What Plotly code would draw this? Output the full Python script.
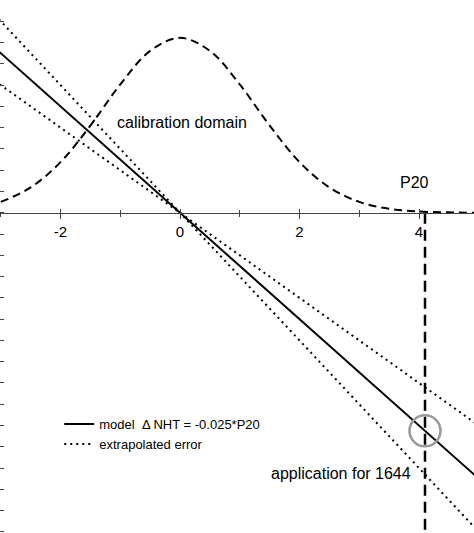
import plotly.graph_objects as go

# DATA

# calibration domain: distribution of P20 (dashed bell curve)
p20_grid = [-3.0, -2.5, -2.0, -1.5, -1.0, -0.5, 0.0, 0.5, 1.0, 1.5, 2.0, 2.5, 3.0, 3.5, 4.0, 4.5, 5.0]
density = [0.0051, 0.0119, 0.0238, 0.0410, 0.0603, 0.0761, 0.0822, 0.0761, 0.0603,
           0.0410, 0.0238, 0.0119, 0.0051, 0.0019, 0.0006, 0.0002, 0.0]

# model line and extrapolated error cone (the two dotted lines cross at 0)
line_x = [-3.1, 5.0]
model_y = [0.0775, -0.125]
err_steep_y = [0.093, -0.150]
err_flat_y = [0.062, -0.100]

# application point
app_p20 = 4.1
app_nht = -0.1025

x_ticks = [-2, 0, 2, 4]
x_labels = ["-2", "0", "2", "4"]

x_range = [-3.013, 4.92]
y_range = [-0.1505, 0.100]

FONT = "Liberation Sans, Arial, Helvetica, sans-serif"

fig = go.Figure()

fig.add_trace(go.Scatter(
    x=p20_grid, y=density, mode="lines", showlegend=False,
    line=dict(color="black", width=2, dash="8px,5px", shape="spline"),
))

fig.add_trace(go.Scatter(
    x=line_x, y=model_y, mode="lines", name="model  \u0394 NHT = -0.025*P20",
    line=dict(color="black", width=2),
))
fig.add_trace(go.Scatter(
    x=line_x, y=err_steep_y, mode="lines", name="extrapolated error",
    legendgroup="err", line=dict(color="black", width=2, dash="2px,4px"),
))
fig.add_trace(go.Scatter(
    x=line_x, y=err_flat_y, mode="lines", name="extrapolated error",
    legendgroup="err", showlegend=False,
    line=dict(color="black", width=2, dash="2px,4px"),
))

# vertical application line from the axis down
fig.add_trace(go.Scatter(
    x=[app_p20, app_p20], y=[0, y_range[0]], mode="lines", showlegend=False,
    line=dict(color="black", width=2.5, dash="11px,6px"),
))

# circle round the application point
fig.add_trace(go.Scatter(
    x=[app_p20], y=[app_nht], mode="markers", showlegend=False,
    marker=dict(symbol="circle-open", size=31, color="#999999", line=dict(width=2.5, color="#999999")),
))

# dummy trace so the overlay axis is drawn
fig.add_trace(go.Scatter(x=[0], y=[0], xaxis="x2", mode="markers", showlegend=False,
                         marker=dict(opacity=0), hoverinfo="skip"))

axis_pos = (0 - y_range[0]) / (y_range[1] - y_range[0])

fig.add_annotation(x=0.03, y=0.0426, text="calibration domain", showarrow=False,
                   font=dict(size=16, color="black", family=FONT))
fig.add_annotation(x=3.93, y=0.014, text="P20", showarrow=False,
                   font=dict(size=16, color="black", family=FONT))
fig.add_annotation(x=3.90, y=-0.1223, text="application for 1644", showarrow=False,
                   xanchor="right", font=dict(size=16, color="black", family=FONT))

fig.update_layout(
    width=474, height=533,
    margin=dict(l=0, r=0, t=0, b=0),
    paper_bgcolor="white", plot_bgcolor="white",
    font=dict(family=FONT, color="black"),
    xaxis=dict(
        range=x_range, anchor="free", position=axis_pos,
        showline=True, linecolor="#444444", linewidth=1,
        showgrid=False, zeroline=False,
        tickvals=x_ticks, ticktext=x_labels,
        ticks="outside", ticklen=5, tickcolor="#444444", tickwidth=1,
        tickfont=dict(size=15, color="black"),
        minor=dict(dtick=1, tick0=0, ticks="outside", ticklen=3, tickcolor="#444444", showgrid=False),
    ),
    xaxis2=dict(
        range=x_range, overlaying="x", anchor="free", position=axis_pos,
        showline=False, showgrid=False, zeroline=False,
        tickvals=x_ticks, showticklabels=False,
        ticks="inside", ticklen=4, tickcolor="#444444", tickwidth=1,
        minor=dict(dtick=1, tick0=0, ticks="inside", ticklen=3, tickcolor="#444444", showgrid=False),
    ),
    yaxis=dict(
        range=y_range, showline=False, showgrid=False, zeroline=False,
        tick0=0, dtick=0.01, ticks="inside", ticklen=4, tickcolor="#444444",
        showticklabels=False,
    ),
    legend=dict(
        x=0.125, y=0.2325, xanchor="left", yanchor="top",
        bgcolor="rgba(0,0,0,0)", font=dict(size=13, color="black"),
        tracegroupgap=0, itemwidth=30,
    ),
)

# page margin off so the figure sits at the window's corner
fig.write_html("out.html", config={"displayModeBar": False},
               post_script="document.body.style.margin='0';")
